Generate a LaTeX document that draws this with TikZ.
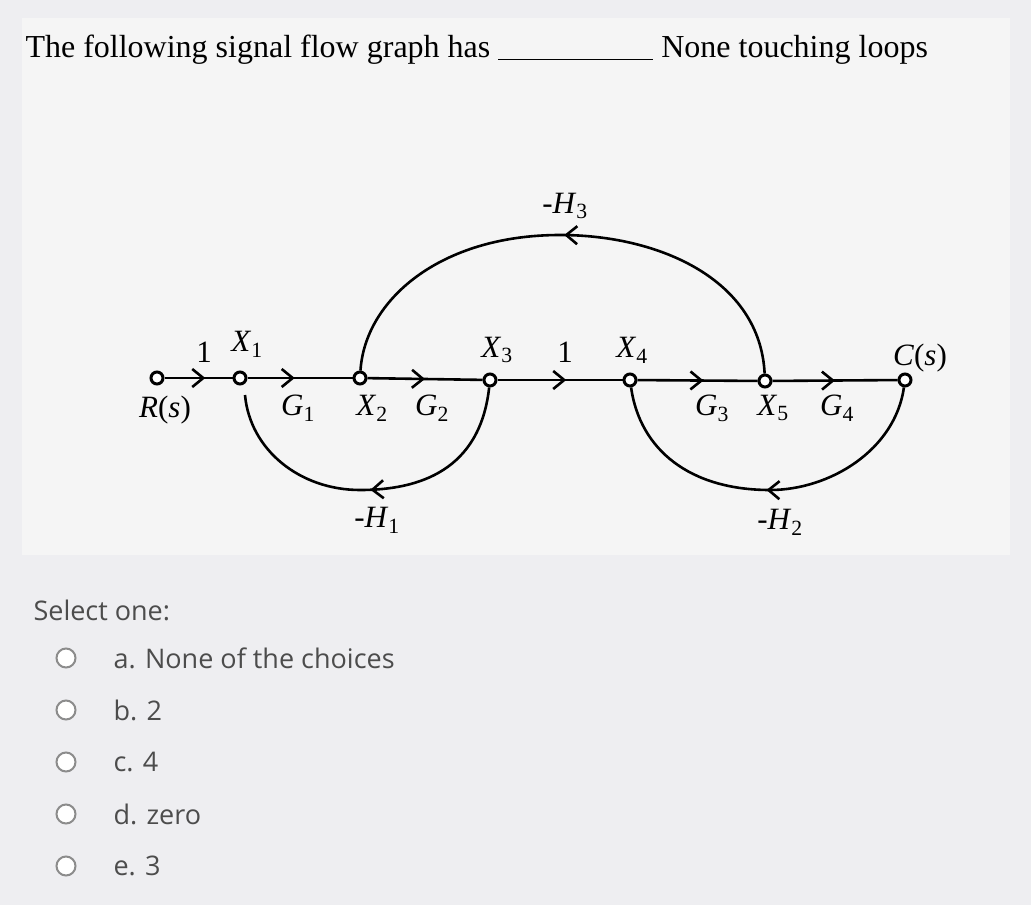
\documentclass[tikz,border=0pt]{standalone}
\usepackage{fontspec}
\setmainfont{Liberation Serif}
\newfontfamily\optfont{Open Sans}
\usetikzlibrary{arrows.meta,decorations.markings}
\tikzset{
 nd/.style={circle,draw,line width=3pt,fill=white,inner sep=0pt,minimum size=12pt},
 lbl/.style={font=\fontsize{31}{34}\selectfont},
 br/.style={line width=2.6pt},
 midarr/.style={postaction={decorate},decoration={markings,mark=at position #1 with {\arrow{Straight Barb[length=11pt,width=18pt,line width=2.6pt]}}}},
 opt/.style={font=\optfont\fontsize{27}{30}\selectfont,text=black!70,anchor=west},
 rad/.style={circle,draw=black!45,line width=2pt,fill=white,minimum size=19pt,inner sep=0pt}
}
\newcommand{\xs}[2]{\textit{#1}\textsubscript{#2}}
\begin{document}
\begin{tikzpicture}[x=1pt,y=-1pt]
\useasboundingbox (0,0) rectangle (1031,905);
\fill[blue!8!gray!12] (0,0) rectangle (1031,905);
\fill[white!92!gray] (22,18) rectangle (1010,555);
\node[font=\fontsize{32}{36}\selectfont,anchor=west] (title) at (22,50) {The following signal flow graph has \underline{\hspace{155pt}} None touching loops};
% nodes
\node[nd] (R) at (157,378) {};
\node[nd] (X1) at (240,378) {};
\node[nd] (X2) at (360,378) {};
\node[nd] (X3) at (490,380) {};
\node[nd] (X4) at (630,380) {};
\node[nd] (X5) at (765,381) {};
\node[nd] (C) at (905,380) {};
\draw[br,midarr=0.6] (R) -- (X1);
\draw[br,midarr=0.45] (X1) -- (X2);
\draw[br,midarr=0.5] (X2) -- (X3);
\draw[br,midarr=0.55] (X3) -- (X4);
\draw[br,midarr=0.55] (X4) -- (X5);
\draw[br,midarr=0.5] (X5) -- (C);
% loops
\draw[br,midarr=0.5] (X3) .. controls (480,470) and (420,490) .. (360,490) .. controls (300,490) and (250,450) .. (245,395);
\draw[br,midarr=0.5] (X5) .. controls (760,280) and (660,235) .. (560,235) .. controls (440,235) and (365,300) .. (X2);
\draw[br,midarr=0.5] (C) .. controls (895,450) and (830,490) .. (770,490) .. controls (690,490) and (640,450) .. (X4);
% labels
\node[lbl] (l1) at (204,352) {1};
\node[lbl] (lx1) at (247,344) {\xs{X}{1}};
\node[lbl] (lr) at (165,410) {\textit{R}(\textit{s})};
\node[lbl] (lg1) at (298,408) {\xs{G}{1}};
\node[lbl] (lx2) at (372,408) {\xs{X}{2}};
\node[lbl] (lg2) at (432,408) {\xs{G}{2}};
\node[lbl] (lx3) at (497,350) {\xs{X}{3}};
\node[lbl] (l2) at (565,352) {1};
\node[lbl] (lx4) at (632,350) {\xs{X}{4}};
\node[lbl] (lg3) at (712,408) {\xs{G}{3}};
\node[lbl] (lx5) at (773,408) {\xs{X}{5}};
\node[lbl] (lg4) at (837,408) {\xs{G}{4}};
\node[lbl] (lc) at (920,358) {\textit{C}(\textit{s})};
\node[lbl] (lh3) at (565,206) {-\xs{H}{3}};
\node[lbl] (lh1) at (377,520) {-\xs{H}{1}};
\node[lbl] (lh2) at (780,522) {-\xs{H}{2}};
% options
\node[opt] (sel) at (30,610) {Select one:};
\foreach \y/\t [count=\i] in {658/a. None of the choices,710/b. 2,762/c. 4,814/d. zero,866/e. 3}{
 \node[rad] (r\i) at (66,\y) {};
 \node[opt] (o\i) at (110,\y) {\t};
}
\end{tikzpicture}
\end{document}
